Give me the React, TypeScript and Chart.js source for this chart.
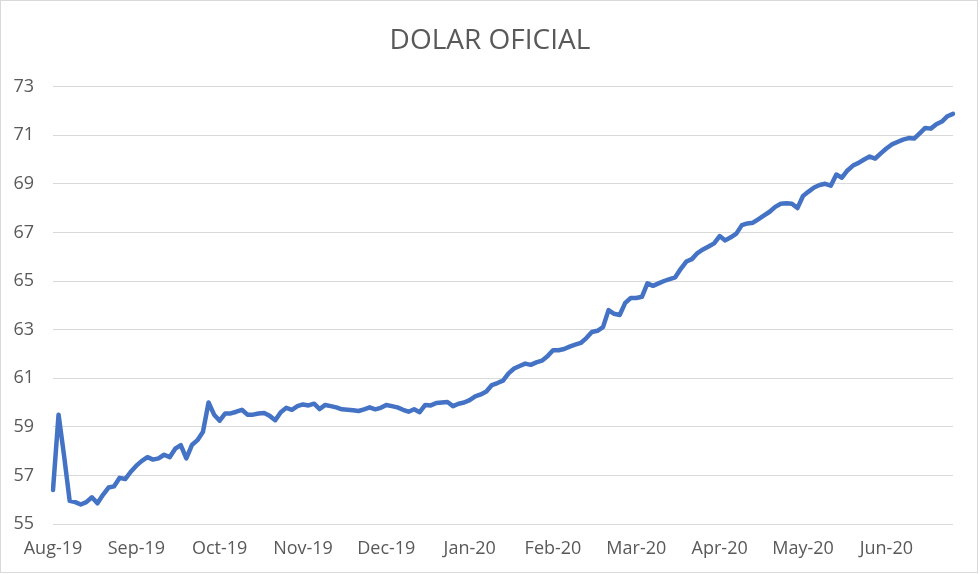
import React, { useEffect, useRef } from "react";
import { Chart, registerables } from "chart.js";

Chart.register(...registerables);

const TITLE = "DOLAR OFICIAL";

const monthLabels = [
  "Aug-19", "Sep-19", "Oct-19", "Nov-19", "Dec-19", "Jan-20",
  "Feb-20", "Mar-20", "Apr-20", "May-20", "Jun-20",
];

const labelStep = 15;

const yTicks = { min: 55, max: 73, step: 2 };

const rate = [
  56.4, 59.5, 57.8, 55.95, 55.9, 55.8, 55.9, 56.1, 55.85, 56.2,
  56.5, 56.55, 56.9, 56.85, 57.15, 57.4, 57.6, 57.75, 57.65, 57.7,
  57.85, 57.75, 58.1, 58.25, 57.7, 58.25, 58.45, 58.8, 60.0, 59.5,
  59.25, 59.55, 59.55, 59.62, 59.7, 59.5, 59.5, 59.55, 59.57, 59.45,
  59.27, 59.6, 59.78, 59.7, 59.85, 59.92, 59.88, 59.95, 59.73, 59.9,
  59.85, 59.8, 59.72, 59.7, 59.68, 59.65, 59.72, 59.8, 59.72, 59.78,
  59.9, 59.85, 59.8, 59.7, 59.62, 59.72, 59.6, 59.9, 59.88, 59.98,
  60.0, 60.02, 59.85, 59.95, 60.0, 60.1, 60.25, 60.33, 60.45, 60.72,
  60.8, 60.9, 61.2, 61.4, 61.5, 61.6, 61.55, 61.65, 61.72, 61.9,
  62.15, 62.15, 62.2, 62.3, 62.38, 62.45, 62.65, 62.9, 62.95, 63.1,
  63.8, 63.65, 63.6, 64.1, 64.3, 64.3, 64.35, 64.9, 64.8, 64.9,
  65.0, 65.08, 65.15, 65.5, 65.8, 65.9, 66.15, 66.3, 66.42, 66.55,
  66.85, 66.67, 66.8, 66.95, 67.3, 67.37, 67.4, 67.55, 67.7, 67.85,
  68.05, 68.18, 68.2, 68.18, 68.0, 68.5, 68.68, 68.85, 68.95, 69.0,
  68.92, 69.38, 69.25, 69.55, 69.75, 69.86, 70.0, 70.12, 70.04, 70.25,
  70.45, 70.62, 70.72, 70.82, 70.88, 70.86, 71.08, 71.3, 71.27, 71.45,
  71.56, 71.78, 71.88,
];

export default function App() {
  const canvasRef = useRef<HTMLCanvasElement | null>(null);

  useEffect(() => {
    document.body.style.margin = "0";
    const canvas = canvasRef.current;
    if (!canvas) return;

    const labels = rate.map((_, i) =>
      i % labelStep === 0 && monthLabels[i / labelStep] ? monthLabels[i / labelStep] : ""
    );

    const chart = new Chart(canvas, {
      type: "line",
      data: {
        labels,
        datasets: [
          {
            label: TITLE,
            data: rate,
            borderColor: "#4472C4",
            backgroundColor: "#4472C4",
            borderWidth: 4.5,
            pointRadius: 0,
            tension: 0,
            borderJoinStyle: "round",
            borderCapStyle: "round",
          },
        ],
      },
      options: {
        responsive: false,
        animation: false,
        layout: { padding: { left: 0, right: 0, top: 0, bottom: 0 } },
        plugins: {
          legend: { display: false },
          tooltip: { enabled: false },
          title: {
            display: true,
            text: TITLE,
            color: "#595959",
            font: { family: "'Open Sans'", size: 28, weight: "normal" },
            padding: { top: 24, bottom: 29 },
          },
        },
        scales: {
          x: {
            type: "category",
            offset: false,
            grid: { display: false, drawTicks: false },
            border: { display: false },
            ticks: {
              autoSkip: false,
              maxRotation: 0,
              minRotation: 0,
              padding: 16,
              color: "#595959",
              font: { family: "'Open Sans'", size: 18, lineHeight: 1.0 },
            },
          },
          y: {
            min: yTicks.min,
            max: yTicks.max,
            afterFit: (scale: any) => {
              scale.width = 53;
            },
            grid: { color: "#d9d9d9", lineWidth: 1, drawTicks: false },
            border: { display: false },
            ticks: {
              stepSize: yTicks.step,
              padding: 19,
              color: "#595959",
              font: { family: "'Open Sans'", size: 18 },
            },
          },
          yRight: {
            type: "linear",
            position: "right",
            min: yTicks.min,
            max: yTicks.max,
            grid: { display: false, drawTicks: false },
            border: { display: false },
            ticks: { display: false },
            afterFit: (scale: any) => {
              scale.width = 27;
            },
          },
        },
      },
    });

    return () => chart.destroy();
  }, []);

  return (
    <div style={{ position: "relative", width: 980, height: 574, background: "#fff" }}>
      <canvas ref={canvasRef} width={980} height={574} style={{ display: "block" }} />
      <div
        style={{
          position: "absolute",
          left: 0,
          top: 0,
          width: 978,
          height: 573,
          border: "1px solid #d9d9d9",
          boxSizing: "border-box",
          pointerEvents: "none",
        }}
      />
    </div>
  );
}
